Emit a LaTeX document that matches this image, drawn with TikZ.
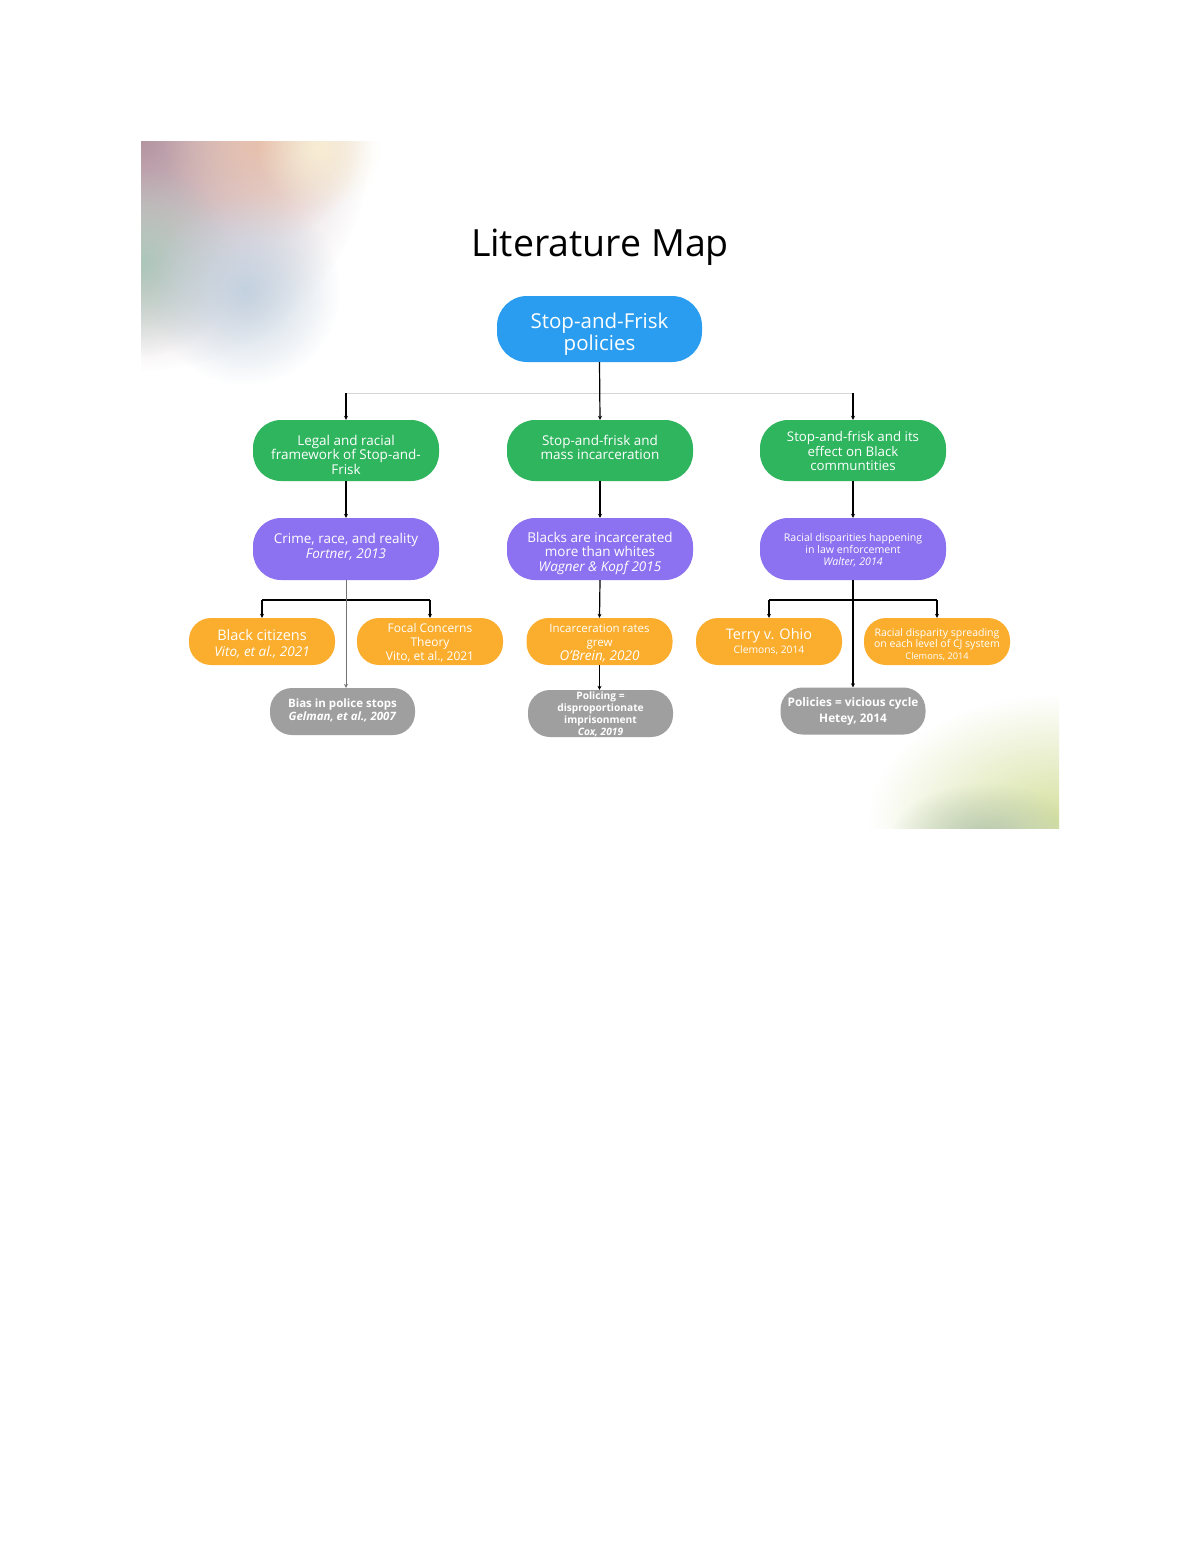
\documentclass[tikz,border=0pt]{standalone}
\usepackage{fontspec}
\setmainfont{Open Sans}
\usetikzlibrary{arrows.meta,fadings}
\tikzfading[name=radfade, inner color=transparent!0, outer color=transparent!100]
\definecolor{cblue}{HTML}{2A9DF0}
\definecolor{cgreen}{HTML}{2EB55E}
\definecolor{cpurple}{HTML}{8C72F0}
\definecolor{corange}{HTML}{FBAE2E}
\definecolor{cgray}{HTML}{9F9F9F}
\definecolor{cline}{HTML}{D4D4D4}
\tikzset{
  box/.style={rectangle, inner sep=0pt},
  rootbox/.style={box, fill=cblue, rounded corners=30pt, minimum width=205pt, minimum height=66pt},
  greenbox/.style={box, fill=cgreen, rounded corners=28pt, minimum width=186pt, minimum height=61pt},
  purplebox/.style={box, fill=cpurple, rounded corners=28pt, minimum width=186pt, minimum height=62pt},
  orangebox/.style={box, fill=corange, rounded corners=22pt, minimum width=146pt, minimum height=47pt},
  graybox/.style={box, fill=cgray, rounded corners=22pt, minimum width=145pt, minimum height=47pt},
  btext/.style={text=white, align=center, inner sep=0pt},
  conn/.style={draw=black, line width=1.2pt, -{Stealth[length=4pt,width=4pt]}},
  plain/.style={draw=black, line width=1.2pt},
  hline/.style={draw=cline, line width=1pt},
  glow/.style={path fading=radfade},
}
\newcommand{\fs}[2]{\fontsize{#1}{#2}\selectfont}
\begin{document}
\begin{tikzpicture}[x=1pt,y=-1pt]
\useasboundingbox (0,0) rectangle (1200,1553);
\fill[white] (0,0) rectangle (1200,1553);
% corner gradients
\begin{scope}
\clip (141,141) rectangle (1059,828);
\fill[color={rgb,255:red,180;green,148;blue,160}, glow] (141,141) circle (230);
\fill[color={rgb,255:red,232;green,192;blue,172}, glow] (262,141) circle (100);
\fill[color={rgb,255:red,248;green,238;blue,212}, glow] (318,148) circle (62);
\fill[color={rgb,255:red,172;green,198;blue,186}, glow] (141,262) circle (95);
\fill[color={rgb,255:red,195;green,209;blue,223}, glow] (245,290) circle (95);
\fill[color={rgb,255:red,214;green,225;blue,160}, glow] (1059,820) ellipse (190 and 125);
\fill[color={rgb,255:red,182;green,199;blue,174}, glow] (985,838) ellipse (95 and 55);
\end{scope}
% title
\node[font=\fs{37.5}{40}, text=black, inner sep=0pt] (title) at (600,247) {Literature Map};
% root
\node[rootbox] (root) at (599.5,329) {};
\node[btext, font=\fs{20.5}{22}] (roott) at ([yshift=-5.5pt]root.center) {Stop-and-Frisk\\policies};
% green
\node[greenbox] (g1) at (346,450.5) {};
\node[greenbox] (g2) at (600,450.5) {};
\node[greenbox] (g3) at (853,450.5) {};
\node[btext, font=\fs{13.5}{14.5}] (g1t) at ([yshift=-4pt]g1.center) {Legal and racial\\framework of Stop-and-\\Frisk};
\node[btext, font=\fs{13.5}{14.5}] (g2t) at ([yshift=3pt]g2.center) {Stop-and-frisk and\\mass incarceration};
\node[btext, font=\fs{13.3}{14.5}] (g3t) at ([yshift=-0.5pt]g3.center) {Stop-and-frisk and its\\effect on Black\\communtities};
% purple
\node[purplebox] (p1) at (346,549) {};
\node[purplebox] (p2) at (600,549) {};
\node[purplebox] (p3) at (853,549) {};
\node[btext, font=\fs{13.5}{15}] (p1t) at ([yshift=2.5pt]p1.center) {Crime, race, and reality\\\textit{Fortner, 2013}};
\node[btext, font=\fs{13.5}{14.5}] (p2t) at ([yshift=-4pt]p2.center) {Blacks are incarcerated\\more than whites\\\textit{Wagner \& Kopf 2015}};
\node[btext, font=\fs{10.6}{12}] (p3t) at ([yshift=-1pt]p3.center) {Racial disparities happening\\in law enforcement\\\textit{Walter, 2014}};
% orange
\node[orangebox] (o1) at (262,641.5) {};
\node[orangebox] (o2) at (430,641.5) {};
\node[orangebox] (o3) at (599.5,641.5) {};
\node[orangebox] (o4) at (769,641.5) {};
\node[orangebox] (o5) at (937,641.5) {};
\node[btext, font=\fs{14.5}{16}] (o1t) at ([yshift=-2.5pt]o1.center) {Black citizens\\{\fs{13.5}{16}\textit{Vito, et al., 2021}}};
\node[btext, font=\fs{12}{14}] (o2t) at ([yshift=-1.5pt]o2.center) {Focal Concerns\\Theory\\Vito, et al., 2021};
\node[btext, font=\fs{11.5}{14}] (o3t) at ([yshift=-2pt]o3.center) {Incarceration rates\\grew\\{\fs{13.5}{14}\textit{O'Brein, 2020}}};
\node[btext, font=\fs{14.5}{14}] (o4t) at ([yshift=-0.5pt]o4.center) {Terry v. Ohio\\{\fs{10.3}{11}Clemons, 2014}};
\node[btext, font=\fs{10.5}{11.5}] (o5t) at ([yshift=-3pt]o5.center) {Racial disparity spreading\\on each level of CJ system\\{\fs{9.2}{12.5}Clemons, 2014}};
% gray
\node[graybox] (y1) at (342.5,711.5) {};
\node[graybox] (y2) at (600.5,713.5) {};
\node[graybox] (y3) at (853,711) {};
\node[btext, font=\fs{11.5}{13}\bfseries] (y1t) at ([yshift=1pt]y1.center) {Bias in police stops\\\textit{Gelman, et al., 2007}};
\node[btext, font=\fs{10.2}{12}\bfseries] (y2t) at ([yshift=-1pt]y2.center) {Policing =\\disproportionate\\imprisonment\\\textit{Cox, 2019}};
\node[btext, font=\fs{11.8}{16}\bfseries] (y3t) at ([yshift=0pt]y3.center) {Policies = vicious cycle\\Hetey, 2014};
% connectors level 1
\coordinate (hb) at (600,393);
\draw[hline] (hb -| g1.north) -- (hb -| g3.north);
\draw[conn] (root.south) -- (g2.north);
\draw[conn] (hb -| g1.north) -- (g1.north);
\draw[conn] (hb -| g3.north) -- (g3.north);
% green to purple
\draw[conn] (g1.south) -- (p1.north);
\draw[conn] (g2.south) -- (p2.north);
\draw[conn] (g3.south) -- (p3.north);
% left branch
\coordinate (lb) at (346,600);
\draw[plain] (lb -| o1.north) -- (lb -| o2.north);
\draw[draw=black!55, line width=1pt] (p1.south) -- (lb);
\draw[draw=black!55, line width=1pt, -{Stealth[length=4pt,width=4pt]}] (lb) -- (p1.south |- y1.north);
\draw[conn] (lb -| o1.north) -- (o1.north);
\draw[conn] (lb -| o2.north) -- (o2.north);
% middle branch
\draw[conn] (p2.south) -- (o3.north);
\draw[conn] (o3.south) -- (o3.south |- y2.north);
% right branch
\coordinate (rb) at (853,600);
\draw[plain] (rb -| o4.north) -- (rb -| o5.north);
\draw[conn] (p3.south) -- (y3.north);
\draw[conn] (rb -| o4.north) -- (o4.north);
\draw[conn] (rb -| o5.north) -- (o5.north);
\end{tikzpicture}
\end{document}
